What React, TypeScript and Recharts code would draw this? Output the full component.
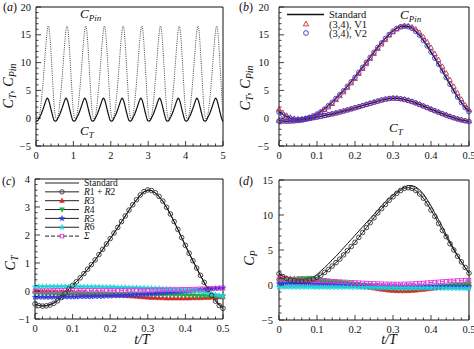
import React from "react"
import { ComposedChart, Line, XAxis, YAxis, ReferenceLine } from "recharts"

const FONT = "'Liberation Serif', 'DejaVu Serif', serif"
const INK = "#111"
const RED = "#d42a2a"
const GREEN = "#22b040"
const BLUE = "#3636de"
const CYAN = "#22d0d8"
const MAGENTA = "#e03cd8"

// half-period sample points t/T
const T_GRID = Array.from({ length: 51 }, (_, i) => +(i * 0.01).toFixed(2))
const CYCLES = 10

// (a)/(b) standard case
const CT_STD = [
  -0.48, -0.51, -0.53, -0.52, -0.48, -0.42, -0.33, -0.21, -0.06, 0.08,
  0.2, 0.33, 0.47, 0.62, 0.77, 0.93, 1.1, 1.29, 1.48, 1.67,
  1.86, 2.06, 2.26, 2.47, 2.67, 2.88, 3.07, 3.25, 3.42, 3.54,
  3.6, 3.58, 3.5, 3.37, 3.2, 2.98, 2.74, 2.47, 2.19, 1.9,
  1.62, 1.34, 1.07, 0.81, 0.55, 0.3, 0.07, -0.14, -0.32, -0.47,
  -0.58,
]
const CPIN_STD = [
  1.2, 0.7, 0.3, 0.0, -0.15, -0.2, -0.15, 0.0, 0.2, 0.45,
  0.8, 1.2, 1.7, 2.3, 2.9, 3.6, 4.3, 5.0, 5.8, 6.6,
  7.4, 8.3, 9.2, 10.1, 11.0, 11.9, 12.8, 13.6, 14.4, 15.1,
  15.7, 16.2, 16.5, 16.6, 16.5, 16.2, 15.6, 14.9, 14.0, 13.0,
  11.9, 10.8, 9.7, 8.5, 7.3, 6.1, 4.9, 3.8, 2.8, 1.9,
  1.2,
]
const CT_V1 = [
  -0.45, -0.5, -0.52, -0.52, -0.49, -0.43, -0.34, -0.22, -0.08, 0.06,
  0.19, 0.32, 0.46, 0.61, 0.76, 0.92, 1.09, 1.28, 1.47, 1.66,
  1.85, 2.05, 2.25, 2.46, 2.66, 2.87, 3.06, 3.24, 3.41, 3.53,
  3.59, 3.58, 3.51, 3.39, 3.22, 3.01, 2.77, 2.5, 2.22, 1.93,
  1.65, 1.37, 1.1, 0.84, 0.58, 0.33, 0.1, -0.11, -0.29, -0.44,
  -0.55,
]
const CPIN_V1 = [
  1.6, 1.0, 0.5, 0.15, -0.05, -0.15, -0.15, -0.05, 0.1, 0.3,
  0.6, 1.0, 1.5, 2.0, 2.6, 3.3, 4.0, 4.7, 5.5, 6.3,
  7.1, 8.0, 8.9, 9.8, 10.7, 11.6, 12.5, 13.3, 14.1, 14.9,
  15.5, 16.0, 16.4, 16.6, 16.6, 16.4, 16.0, 15.4, 14.6, 13.7,
  12.7, 11.6, 10.5, 9.3, 8.1, 6.9, 5.7, 4.5, 3.4, 2.4,
  1.5,
]
const CT_V2 = [
  -0.5, -0.53, -0.54, -0.52, -0.47, -0.41, -0.32, -0.2, -0.05, 0.09,
  0.21, 0.34, 0.48, 0.63, 0.78, 0.94, 1.11, 1.3, 1.49, 1.68,
  1.87, 2.07, 2.27, 2.48, 2.68, 2.89, 3.08, 3.26, 3.42, 3.54,
  3.6, 3.57, 3.49, 3.36, 3.19, 2.97, 2.73, 2.46, 2.18, 1.89,
  1.61, 1.33, 1.06, 0.8, 0.54, 0.29, 0.06, -0.15, -0.33, -0.48,
  -0.59,
]
const CPIN_V2 = [
  1.1, 0.6, 0.2, -0.05, -0.2, -0.25, -0.2, -0.05, 0.15, 0.4,
  0.75, 1.15, 1.65, 2.25, 2.85, 3.55, 4.25, 4.95, 5.75, 6.55,
  7.35, 8.25, 9.15, 10.05, 10.95, 11.85, 12.75, 13.55, 14.35, 15.05,
  15.65, 16.15, 16.45, 16.55, 16.45, 16.15, 15.6, 14.9, 14.0, 13.0,
  11.9, 10.8, 9.7, 8.5, 7.3, 6.1, 4.9, 3.8, 2.8, 1.9,
  1.2,
]

// (c) thrust decomposition
const CT_R12 = [
  -0.46, -0.52, -0.54, -0.53, -0.5, -0.44, -0.35, -0.23, -0.08, 0.07,
  0.2, 0.33, 0.47, 0.62, 0.78, 0.94, 1.11, 1.3, 1.49, 1.68,
  1.87, 2.07, 2.27, 2.48, 2.68, 2.89, 3.08, 3.26, 3.43, 3.55,
  3.61, 3.59, 3.51, 3.38, 3.21, 2.99, 2.75, 2.48, 2.2, 1.91,
  1.63, 1.35, 1.08, 0.82, 0.56, 0.31, 0.06, -0.16, -0.36, -0.52,
  -0.62,
]
const CT_R3 = [
  -0.02, -0.02, -0.03, -0.03, -0.04, -0.04, -0.05, -0.05, -0.06, -0.06,
  -0.07, -0.07, -0.08, -0.08, -0.09, -0.09, -0.1, -0.1, -0.11, -0.12,
  -0.13, -0.14, -0.15, -0.16, -0.17, -0.18, -0.19, -0.2, -0.21, -0.22,
  -0.23, -0.24, -0.24, -0.25, -0.25, -0.26, -0.26, -0.26, -0.26, -0.26,
  -0.26, -0.26, -0.25, -0.25, -0.25, -0.24, -0.24, -0.23, -0.23, -0.22,
  -0.22,
]
const CT_R4 = [
  -0.09, -0.09, -0.1, -0.1, -0.1, -0.1, -0.1, -0.1, -0.1, -0.1,
  -0.1, -0.1, -0.1, -0.1, -0.1, -0.1, -0.1, -0.1, -0.1, -0.1,
  -0.1, -0.1, -0.11, -0.11, -0.11, -0.11, -0.11, -0.12, -0.12, -0.12,
  -0.12, -0.13, -0.13, -0.13, -0.14, -0.14, -0.14, -0.15, -0.15, -0.15,
  -0.16, -0.16, -0.16, -0.17, -0.17, -0.17, -0.18, -0.18, -0.18, -0.19,
  -0.19,
]
const CT_R5 = [
  -0.22, -0.22, -0.22, -0.22, -0.22, -0.22, -0.22, -0.21, -0.21, -0.21,
  -0.21, -0.21, -0.2, -0.2, -0.2, -0.2, -0.19, -0.19, -0.19, -0.18,
  -0.18, -0.17, -0.17, -0.16, -0.16, -0.15, -0.14, -0.14, -0.13, -0.12,
  -0.11, -0.1, -0.09, -0.08, -0.07, -0.06, -0.05, -0.04, -0.03, -0.02,
  -0.01, 0.0, 0.01, 0.03, 0.04, 0.05, 0.07, 0.08, 0.09, 0.1,
  0.11,
]
const CT_R6 = [
  0.15, 0.16, 0.16, 0.16, 0.16, 0.16, 0.16, 0.16, 0.16, 0.16,
  0.16, 0.16, 0.15, 0.15, 0.15, 0.15, 0.15, 0.15, 0.14, 0.14,
  0.14, 0.14, 0.13, 0.13, 0.13, 0.12, 0.12, 0.12, 0.11, 0.11,
  0.1, 0.1, 0.09, 0.09, 0.08, 0.08, 0.07, 0.06, 0.05, 0.05,
  0.04, 0.03, 0.02, 0.0, -0.02, -0.04, -0.07, -0.1, -0.13, -0.16,
  -0.19,
]
const CT_SUM = [
  0.0, 0.01, 0.01, 0.01, 0.01, 0.02, 0.02, 0.02, 0.02, 0.02,
  0.02, 0.02, 0.02, 0.02, 0.02, 0.02, 0.02, 0.02, 0.02, 0.02,
  0.02, 0.02, 0.02, 0.02, 0.02, 0.03, 0.03, 0.03, 0.03, 0.03,
  0.03, 0.03, 0.04, 0.04, 0.04, 0.04, 0.05, 0.05, 0.05, 0.06,
  0.06, 0.06, 0.07, 0.07, 0.08, 0.08, 0.09, 0.09, 0.1, 0.1,
  0.11,
]

// (d) power decomposition
const CP_STD = [
  1.7, 1.3, 1.0, 0.8, 0.7, 0.65, 0.65, 0.7, 0.85, 1.1,
  1.5, 2.0, 2.5, 3.0, 3.6, 4.1, 4.7, 5.3, 5.9, 6.5,
  7.1, 7.7, 8.3, 8.9, 9.5, 10.1, 10.7, 11.3, 11.9, 12.4,
  12.9, 13.3, 13.7, 14.0, 14.2, 14.2, 14.0, 13.6, 13.0, 12.2,
  11.3, 10.3, 9.3, 8.3, 7.2, 6.2, 5.2, 4.2, 3.3, 2.5,
  1.7,
]
const CP_R12 = [
  1.6, 1.2, 0.9, 0.7, 0.6, 0.55, 0.55, 0.6, 0.7, 0.85,
  1.1, 1.4, 1.8, 2.2, 2.7, 3.2, 3.7, 4.3, 4.9, 5.5,
  6.1, 6.8, 7.5, 8.2, 8.9, 9.6, 10.3, 10.9, 11.5, 12.1,
  12.6, 13.1, 13.5, 13.8, 13.9, 13.8, 13.5, 13.0, 12.4, 11.6,
  10.7, 9.8, 8.8, 7.8, 6.9, 5.9, 5.0, 4.1, 3.3, 2.5,
  1.7,
]
const CP_R3 = [
  1.0, 0.98, 0.96, 0.94, 0.92, 0.9, 0.87, 0.84, 0.8, 0.76,
  0.71, 0.66, 0.6, 0.54, 0.47, 0.4, 0.32, 0.24, 0.15, 0.06,
  -0.03, -0.12, -0.21, -0.3, -0.39, -0.48, -0.56, -0.64, -0.71, -0.77,
  -0.82, -0.85, -0.86, -0.86, -0.84, -0.81, -0.77, -0.72, -0.66, -0.6,
  -0.53, -0.46, -0.39, -0.32, -0.25, -0.18, -0.11, -0.04, 0.03, 0.1,
  0.16,
]
const CP_R4 = [
  0.5, 0.6, 0.7, 0.78, 0.85, 0.9, 0.95, 0.98, 1.0, 0.95,
  0.85, 0.75, 0.67, 0.6, 0.53, 0.47, 0.41, 0.35, 0.29, 0.22,
  0.15, 0.08, 0.0, -0.08, -0.15, -0.22, -0.29, -0.35, -0.4, -0.44,
  -0.47, -0.49, -0.5, -0.5, -0.49, -0.47, -0.44, -0.41, -0.37, -0.33,
  -0.29, -0.25, -0.21, -0.17, -0.13, -0.09, -0.05, -0.01, 0.03, 0.06,
  0.09,
]
const CP_R5 = [
  0.2, 0.22, 0.23, 0.23, 0.22, 0.21, 0.2, 0.19, 0.18, 0.16,
  0.14, 0.12, 0.1, 0.08, 0.06, 0.04, 0.02, 0.0, -0.02, -0.04,
  -0.06, -0.08, -0.1, -0.12, -0.14, -0.15, -0.16, -0.17, -0.18, -0.19,
  -0.2, -0.2, -0.21, -0.21, -0.21, -0.21, -0.21, -0.21, -0.21, -0.21,
  -0.22, -0.22, -0.22, -0.22, -0.23, -0.23, -0.23, -0.24, -0.24, -0.24,
  -0.25,
]
const CP_R6 = [
  -0.3, -0.3, -0.3, -0.3, -0.3, -0.3, -0.3, -0.3, -0.3, -0.31,
  -0.31, -0.31, -0.31, -0.32, -0.32, -0.32, -0.33, -0.33, -0.33, -0.34,
  -0.34, -0.35, -0.35, -0.36, -0.36, -0.37, -0.37, -0.38, -0.38, -0.39,
  -0.39, -0.4, -0.4, -0.41, -0.41, -0.42, -0.42, -0.43, -0.43, -0.44,
  -0.44, -0.45, -0.45, -0.46, -0.46, -0.47, -0.47, -0.48, -0.48, -0.49,
  -0.5,
]
const CP_SUM = [
  0.85, 0.83, 0.8, 0.78, 0.76, 0.74, 0.72, 0.7, 0.68, 0.66,
  0.64, 0.62, 0.6, 0.57, 0.54, 0.51, 0.48, 0.45, 0.42, 0.39,
  0.36, 0.33, 0.3, 0.27, 0.24, 0.22, 0.2, 0.18, 0.16, 0.15,
  0.14, 0.14, 0.14, 0.15, 0.17, 0.19, 0.22, 0.25, 0.29, 0.33,
  0.37, 0.41, 0.45, 0.49, 0.53, 0.57, 0.6, 0.63, 0.66, 0.68,
  0.7,
]

// axis ticks
const X_MAJOR_A = [0, 1, 2, 3, 4, 5]
const X_MAJOR_HALF = [0, 0.1, 0.2, 0.3, 0.4, 0.5]
const Y_MAJOR_AB = [-5, 0, 5, 10, 15, 20]
const Y_MAJOR_C = [-1, 0, 1, 2, 3, 4]
const Y_MAJOR_D = [-5, 0, 5, 10, 15]

const range = (a: number, b: number, step: number) => {
  const out: number[] = []
  for (let i = 0; a + i * step <= b + 1e-9; i++) out.push(Math.round((a + i * step) * 1000) / 1000)
  return out
}

const fmt = (v: number) => {
  const r = Math.round(v * 100) / 100
  return r < 0 ? "\u2212" + String(-r) : String(r)
}
const isMajor = (majors: number[], v: number) => majors.some(m => Math.abs(m - v) < 1e-6)

const TICK_FS = 10.5

function xTick(majors: number[]) {
  return (props: any) => {
    const { x, y, payload } = props
    const major = isMajor(majors, payload.value)
    return (
      <g>
        <line x1={x} x2={x} y1={y} y2={y - (major ? 5 : 2.5)} stroke={INK} strokeWidth={0.8} />
        {major && (
          <text x={x} y={y + 12.5} textAnchor="middle" fontSize={TICK_FS} fontFamily={FONT} fill={INK}>
            {fmt(payload.value)}
          </text>
        )}
      </g>
    )
  }
}

function yTick(majors: number[], gap: number) {
  return (props: any) => {
    const { x, y, payload } = props
    const major = isMajor(majors, payload.value)
    return (
      <g>
        <line x1={x} x2={x + (major ? 5 : 2.5)} y1={y} y2={y} stroke={INK} strokeWidth={0.8} />
        {major && (
          <text x={x - gap} y={y} dy="0.35em" textAnchor="end" fontSize={TICK_FS} fontFamily={FONT} fill={INK}>
            {fmt(payload.value)}
          </text>
        )}
      </g>
    )
  }
}

type Kind = "circle" | "tri" | "invtri" | "star" | "square"

function Marker({ kind, cx, cy, color, hollow, r = 2.2 }: { kind: Kind; cx: number; cy: number; color: string; hollow?: boolean; r?: number }) {
  const fill = hollow ? "none" : color
  const sw = hollow ? 0.9 : 0.5
  if (cx == null || cy == null) return null
  if (kind === "circle") return <circle cx={cx} cy={cy} r={r} fill={fill} stroke={color} strokeWidth={sw} />
  if (kind === "square") return <rect x={cx - r} y={cy - r} width={2 * r} height={2 * r} fill={fill} stroke={color} strokeWidth={sw} />
  if (kind === "tri" || kind === "invtri") {
    const s = kind === "tri" ? 1 : -1
    const pts = `${cx},${cy - s * r * 1.2} ${cx - r * 1.1},${cy + s * r * 0.8} ${cx + r * 1.1},${cy + s * r * 0.8}`
    return <polygon points={pts} fill={fill} stroke={color} strokeWidth={sw} />
  }
  const pts: string[] = []
  for (let i = 0; i < 10; i++) {
    const a = (Math.PI / 5) * i - Math.PI / 2
    const rr = i % 2 === 0 ? r * 1.3 : r * 0.55
    pts.push(`${cx + rr * Math.cos(a)},${cy + rr * Math.sin(a)}`)
  }
  return <polygon points={pts.join(" ")} fill={fill} stroke={color} strokeWidth={sw} />
}

const dotOf = (kind: Kind, color: string, hollow?: boolean, r?: number) => (p: any) =>
  <Marker key={p.index} kind={kind} cx={p.cx} cy={p.cy} color={color} hollow={hollow} r={r} />

// table builders
const dataA: { t: number; ct: number; cpin: number }[] = []
for (let k = 0; k < CYCLES; k++) {
  for (let i = 0; i < T_GRID.length - 1; i++) {
    dataA.push({ t: +(k * 0.5 + T_GRID[i]).toFixed(3), ct: CT_STD[i], cpin: CPIN_STD[i] })
  }
}
dataA.push({ t: CYCLES * 0.5, ct: CT_STD[50], cpin: CPIN_STD[50] })

const dataB = T_GRID.map((t, i) => ({
  t, ct: CT_STD[i], cpin: CPIN_STD[i], ctV1: CT_V1[i], cpinV1: CPIN_V1[i], ctV2: CT_V2[i], cpinV2: CPIN_V2[i],
}))
const dataC = T_GRID.map((t, i) => ({
  t, std: CT_STD[i], r12: CT_R12[i], r3: CT_R3[i], r4: CT_R4[i], r5: CT_R5[i], r6: CT_R6[i], sum: CT_SUM[i],
}))
const dataD = T_GRID.map((t, i) => ({
  t, std: CP_STD[i], r12: CP_R12[i], r3: CP_R3[i], r4: CP_R4[i], r5: CP_R5[i], r6: CP_R6[i], sum: CP_SUM[i],
}))

const common = { isAnimationActive: false, activeDot: false as const, type: "linear" as const }

function Frame({ xMax, yMax }: { xMax: number; yMax: number }) {
  return (
    <>
      <ReferenceLine y={yMax} stroke={INK} strokeWidth={1} />
      <ReferenceLine x={xMax} stroke={INK} strokeWidth={1} />
    </>
  )
}

function DecompLines() {
  return (
    <>
      <Line dataKey="r3" stroke={RED} strokeWidth={1} dot={dotOf("tri", RED)} {...common} />
      <Line dataKey="r4" stroke={GREEN} strokeWidth={1} dot={dotOf("invtri", GREEN)} {...common} />
      <Line dataKey="r5" stroke={BLUE} strokeWidth={1} dot={dotOf("star", BLUE)} {...common} />
      <Line dataKey="r6" stroke={CYAN} strokeWidth={1} dot={dotOf("star", CYAN)} {...common} />
      <Line dataKey="sum" stroke={MAGENTA} strokeWidth={1} strokeDasharray="4 2" dot={dotOf("square", MAGENTA, true, 1.8)} {...common} />
      <Line dataKey="std" stroke={INK} strokeWidth={1} dot={false} {...common} />
      <Line dataKey="r12" stroke={INK} strokeWidth={1} dot={dotOf("circle", "#333", true, 2.3)} {...common} />
    </>
  )
}

const txt = { fontFamily: FONT, fill: INK }

function Overlay() {
  const legendC: { label: React.ReactNode; kind?: Kind; color?: string; dash?: boolean; hollow?: boolean }[] = [
    { label: "Standard" },
    { label: <><tspan fontStyle="italic">R</tspan>1 + <tspan fontStyle="italic">R</tspan>2</>, kind: "circle", color: "#333", hollow: true },
    { label: <><tspan fontStyle="italic">R</tspan>3</>, kind: "tri", color: RED },
    { label: <><tspan fontStyle="italic">R</tspan>4</>, kind: "invtri", color: GREEN },
    { label: <><tspan fontStyle="italic">R</tspan>5</>, kind: "star", color: BLUE },
    { label: <><tspan fontStyle="italic">R</tspan>6</>, kind: "star", color: CYAN },
    { label: <tspan fontStyle="italic">Σ</tspan>, kind: "square", color: MAGENTA, dash: true, hollow: true },
  ]
  return (
    <svg width={474} height={349} style={{ position: "absolute", left: 0, top: 0, pointerEvents: "none" }}>
      {/* panel letters */}
      <text x={3} y={11} fontSize={12} {...txt}>(<tspan fontStyle="italic">a</tspan>)</text>
      <text x={239} y={11} fontSize={12} {...txt}>(<tspan fontStyle="italic">b</tspan>)</text>
      <text x={2} y={185} fontSize={12} {...txt}>(<tspan fontStyle="italic">c</tspan>)</text>
      <text x={239} y={185} fontSize={12} {...txt}>(<tspan fontStyle="italic">d</tspan>)</text>

      {/* y titles */}
      {[[13, 86], [250, 88]].map(([x, y], i) => (
        <text key={i} transform={`translate(${x},${y}) rotate(-90)`} textAnchor="middle" fontSize={14} fontStyle="italic" {...txt}>
          C<tspan dy={3} fontSize={10}>T</tspan><tspan dy={-3}>, C</tspan><tspan dy={3} fontSize={10}>Pin</tspan>
        </text>
      ))}
      <text transform="translate(15,263) rotate(-90)" textAnchor="middle" fontSize={14} fontStyle="italic" {...txt}>
        C<tspan dy={3} fontSize={10}>T</tspan>
      </text>
      <text transform="translate(254,258) rotate(-90)" textAnchor="middle" fontSize={14} fontStyle="italic" {...txt}>
        C<tspan dy={3} fontSize={10}>P</tspan>
      </text>

      {/* x titles */}
      <text x={142} y={344} textAnchor="middle" fontSize={14} fontStyle="italic" {...txt}>t/T</text>
      <text x={389} y={344} textAnchor="middle" fontSize={14} fontStyle="italic" {...txt}>t/T</text>

      {/* annotations */}
      <text x={80} y={18} fontSize={13} fontStyle="italic" {...txt}>C<tspan dy={3} fontSize={9}>Pin</tspan></text>
      <text x={80} y={135} fontSize={13} fontStyle="italic" {...txt}>C<tspan dy={3} fontSize={9}>T</tspan></text>
      <text x={400} y={19} fontSize={13} fontStyle="italic" {...txt}>C<tspan dy={3} fontSize={9}>Pin</tspan></text>
      <text x={389} y={132} fontSize={13} fontStyle="italic" {...txt}>C<tspan dy={3} fontSize={9}>T</tspan></text>

      {/* legend (b) */}
      <line x1={287} x2={324} y1={14.5} y2={14.5} stroke={INK} strokeWidth={1.5} />
      <text x={329} y={14.5} dy="0.35em" fontSize={10.5} {...txt}>Standard</text>
      <Marker kind="tri" cx={306} cy={24} color={RED} hollow r={2.4} />
      <text x={329} y={24} dy="0.35em" fontSize={10.5} {...txt}>(3,4), V1</text>
      <Marker kind="circle" cx={306} cy={33} color={BLUE} hollow r={2.4} />
      <text x={329} y={33} dy="0.35em" fontSize={10.5} {...txt}>(3,4), V2</text>

      {/* legend (c) */}
      {legendC.map((row, i) => {
        const y = 183 + i * 8.85
        return (
          <g key={i}>
            <line x1={45} x2={79} y1={y} y2={y} stroke="#222" strokeWidth={1} strokeDasharray={row.dash ? "4 2" : undefined} />
            {row.kind && <Marker kind={row.kind} cx={62} cy={y} color={row.color!} hollow={row.hollow} r={row.kind === "square" ? 1.8 : 2.2} />}
            <text x={84} y={y} dy="0.33em" fontSize={9.5} {...txt}>{row.label}</text>
          </g>
        )
      })}
    </svg>
  )
}

export default function App() {
  return (
    <div style={{ position: "absolute", left: 0, top: 0, width: 474, height: 349, background: "#fff", fontFamily: FONT }}>
      <div style={{ position: "absolute", left: 0, top: 0 }}>
        <ComposedChart width={237} height={175} data={dataA} margin={{ top: 7, right: 14, bottom: 0, left: 0 }}>
          <XAxis type="number" dataKey="t" domain={[0, 5]} ticks={range(0, 5, 0.2)} interval={0} height={29}
            tickSize={0} tickMargin={0} tickLine={false} stroke={INK} tick={xTick(X_MAJOR_A)} />
          <YAxis type="number" domain={[-5, 20]} ticks={range(-5, 20, 1)} interval={0} width={36}
            tickSize={0} tickMargin={0} tickLine={false} stroke={INK} tick={yTick(Y_MAJOR_AB, 5)} />
          <Frame xMax={5} yMax={20} />
          <Line dataKey="cpin" stroke="#444" strokeWidth={1} strokeDasharray="1 1.2" dot={false} {...common} />
          <Line dataKey="ct" stroke={INK} strokeWidth={1.2} dot={false} {...common} />
        </ComposedChart>
      </div>
      <div style={{ position: "absolute", left: 237, top: 0 }}>
        <ComposedChart width={237} height={175} data={dataB} margin={{ top: 7, right: 5, bottom: 0, left: 0 }}>
          <XAxis type="number" dataKey="t" domain={[0, 0.5]} ticks={range(0, 0.5, 0.02)} interval={0} height={29}
            tickSize={0} tickMargin={0} tickLine={false} stroke={INK} tick={xTick(X_MAJOR_HALF)} />
          <YAxis type="number" domain={[-5, 20]} ticks={range(-5, 20, 1)} interval={0} width={42}
            tickSize={0} tickMargin={0} tickLine={false} stroke={INK} tick={yTick(Y_MAJOR_AB, 10)} />
          <Frame xMax={0.5} yMax={20} />
          <Line dataKey="cpin" stroke={INK} strokeWidth={1.5} dot={false} {...common} />
          <Line dataKey="ct" stroke={INK} strokeWidth={1.5} dot={false} {...common} />
          <Line dataKey="cpinV1" stroke="none" dot={dotOf("tri", RED, true, 2.2)} {...common} />
          <Line dataKey="ctV1" stroke="none" dot={dotOf("tri", RED, true, 2.2)} {...common} />
          <Line dataKey="cpinV2" stroke="none" dot={dotOf("circle", BLUE, true, 2.3)} {...common} />
          <Line dataKey="ctV2" stroke="none" dot={dotOf("circle", BLUE, true, 2.3)} {...common} />
        </ComposedChart>
      </div>
      <div style={{ position: "absolute", left: 0, top: 168 }}>
        <ComposedChart width={237} height={181} data={dataC} margin={{ top: 11, right: 14, bottom: 0, left: 0 }}>
          <XAxis type="number" dataKey="t" domain={[0, 0.5]} ticks={range(0, 0.5, 0.02)} interval={0} height={30}
            tickSize={0} tickMargin={0} tickLine={false} stroke={INK} tick={xTick(X_MAJOR_HALF)} />
          <YAxis type="number" domain={[-1, 4]} ticks={range(-1, 4, 0.2)} interval={0} width={35}
            tickSize={0} tickMargin={0} tickLine={false} stroke={INK} tick={yTick(Y_MAJOR_C, 5)} />
          <Frame xMax={0.5} yMax={4} />
          {DecompLines()}
        </ComposedChart>
      </div>
      <div style={{ position: "absolute", left: 237, top: 168 }}>
        <ComposedChart width={237} height={181} data={dataD} margin={{ top: 12, right: 5, bottom: 0, left: 0 }}>
          <XAxis type="number" dataKey="t" domain={[0, 0.5]} ticks={range(0, 0.5, 0.02)} interval={0} height={29}
            tickSize={0} tickMargin={0} tickLine={false} stroke={INK} tick={xTick(X_MAJOR_HALF)} />
          <YAxis type="number" domain={[-5, 15]} ticks={range(-5, 15, 1)} interval={0} width={42}
            tickSize={0} tickMargin={0} tickLine={false} stroke={INK} tick={yTick(Y_MAJOR_D, 6)} />
          <Frame xMax={0.5} yMax={15} />
          {DecompLines()}
        </ComposedChart>
      </div>
      <Overlay />
    </div>
  )
}
